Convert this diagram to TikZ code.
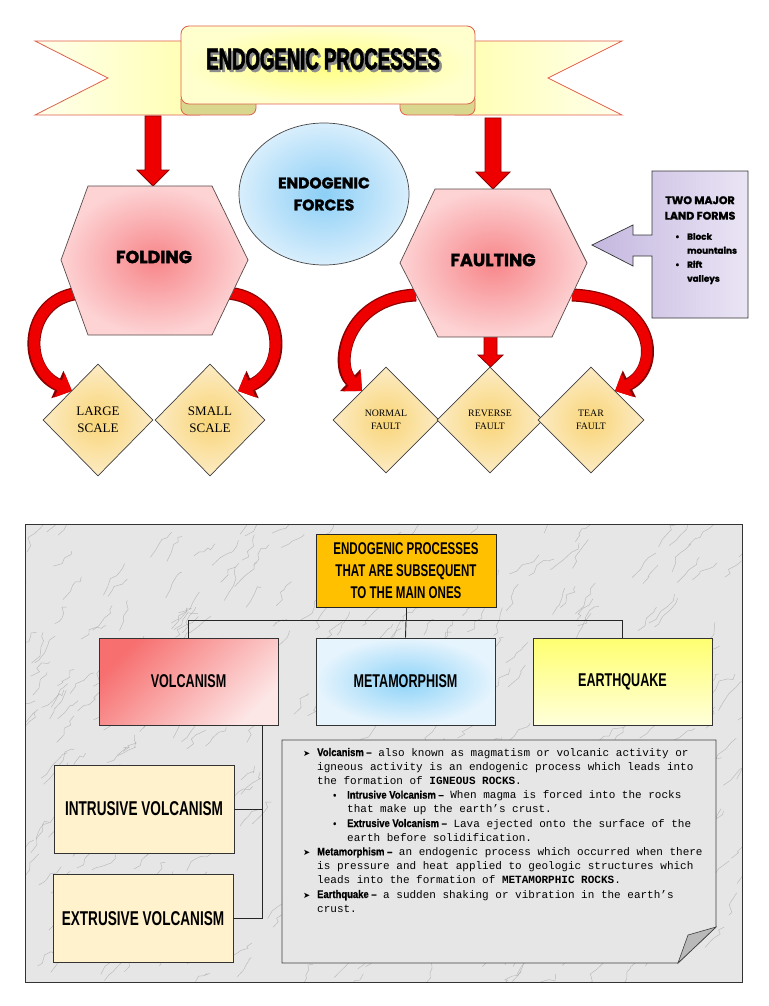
\documentclass[tikz,border=0pt]{standalone}
\usepackage{fontspec}
\setmainfont{Liberation Serif}
\newfontfamily\poppins[FakeBold=1.6]{Poppins}
\newfontfamily\poppinsb{Poppins}
\newfontfamily\agency[FakeStretch=0.68]{Liberation Sans}
\newfontfamily\titlefont[FakeStretch=0.62,FakeBold=1.8]{Liberation Sans}
\newfontfamily\labelfont[FakeStretch=0.86,FakeBold=0.8]{Liberation Sans}
\newfontfamily\monofont{Liberation Mono}
\newfontfamily\dejavu{DejaVu Sans}
\usetikzlibrary{shapes.geometric,arrows.meta}

\definecolor{ribbonline}{HTML}{E0604A}
\definecolor{ribbonA}{HTML}{FFFFEC}
\definecolor{ribbonB}{HTML}{FFFFB0}
\definecolor{panelIn}{HTML}{FFFF80}
\definecolor{panelOut}{HTML}{FFFFCE}
\definecolor{flapc}{HTML}{D9D68E}
\definecolor{arrred}{HTML}{EE0000}
\definecolor{arrdark}{HTML}{8A0000}
\definecolor{hexIn}{HTML}{F7868A}
\definecolor{hexOut}{HTML}{FDD3D4}
\definecolor{hexLine}{HTML}{5A4A4A}
\definecolor{diaIn}{HTML}{F9D577}
\definecolor{diaOut}{HTML}{FCEBC4}
\definecolor{ellIn}{HTML}{8CCFF6}
\definecolor{ellOut}{HTML}{D8EEFC}
\definecolor{purA}{HTML}{C4B7DF}
\definecolor{purB}{HTML}{EAE5F5}
\definecolor{orangebox}{HTML}{FFC000}
\definecolor{volA}{HTML}{F76F6F}
\definecolor{volB}{HTML}{FDE6E6}
\definecolor{metIn}{HTML}{8DD3F8}
\definecolor{metOut}{HTML}{E6F4FD}
\definecolor{eqA}{HTML}{FFFF70}
\definecolor{eqB}{HTML}{FFFFDA}
\definecolor{cream}{HTML}{FFF2CC}
\definecolor{marble}{HTML}{E6E6E6}
\definecolor{notebg}{HTML}{E6E6E6}

\tikzset{
  redblk/.style={fill=arrred, draw=arrdark, line width=0.8pt},
  curveout/.style={draw=arrdark, line width=13pt, -{Triangle[width=29pt,length=16pt]}},
  curvein/.style={draw=arrred, line width=10.5pt, -{Triangle[width=25pt,length=13.5pt]}},
  hexshape/.style={inner color=hexIn, outer color=hexOut, draw=hexLine, line width=0.7pt},
  heavytext/.style={font=\poppins\bfseries\fontsize{17.5}{18}\selectfont},
  dia/.style={diamond, shade, inner color=diaIn, outer color=diaOut, draw=black!75, line width=0.7pt,
              minimum width=110pt, minimum height=112pt, inner sep=0pt, align=center},
  bigdia/.style={dia, font=\fontsize{13}{17}\selectfont},
  smalldia/.style={dia, minimum width=106pt, minimum height=106pt, font=\fontsize{9.8}{12.5}\selectfont},
  bigbox/.style={draw=black!80, line width=0.8pt, minimum width=179pt, minimum height=87pt, inner sep=0pt,
                 font=\agency\bfseries\fontsize{18.5}{20}\selectfont},
  subbox/.style={draw=black!80, line width=0.8pt, fill=cream, minimum width=180pt, minimum height=88pt, inner sep=0pt,
                 font=\agency\bfseries\fontsize{20}{22}\selectfont},
  conn/.style={draw=black!85, line width=0.9pt},
  vein/.style={draw=gray!70, line width=0.45pt, opacity=0.7},
  txt/.style={anchor=base west, inner sep=0pt, font=\monofont\fontsize{11}{14}\selectfont},
}
\newcommand{\arrb}{\makebox[14pt][l]{\dejavu\fontsize{8.5}{9}\selectfont ➤}}
\newcommand{\bull}{\makebox[14pt][l]{\labelfont\fontsize{10}{10}\selectfont •}}
\newcommand{\lbl}[1]{{\labelfont\bfseries\fontsize{11}{11}\selectfont #1}}

\begin{document}
\begin{tikzpicture}[x=1pt,y=-1pt]
\useasboundingbox (0,0) rectangle (768,1006);
\fill[white] (0,0) rectangle (768,1006);

% ---------------- banner ----------------
\shade[left color=ribbonA, right color=ribbonB, draw=ribbonline, line width=0.8pt]
  (35,41) -- (200,41) -- (200,115) -- (35,115) -- (108,78) -- cycle;
\shade[left color=ribbonB, right color=ribbonA, draw=ribbonline, line width=0.8pt]
  (455,41) -- (622,41) -- (548,78) -- (622,115) -- (455,115) -- cycle;
\filldraw[fill=flapc, draw=ribbonline, line width=0.8pt, rounded corners=7pt] (181,93) rectangle (256,115);
\filldraw[fill=flapc, draw=ribbonline, line width=0.8pt, rounded corners=7pt] (400,93) rectangle (475,115);
\shade[inner color=panelIn, outer color=panelOut, draw=ribbonline, line width=0.8pt, rounded corners=8pt]
  (181,104) -- (181,26) -- (475,26) -- (475,104) -- cycle;
\node[text=black!45] (titleshadow) at (325.5,61.5) {\titlefont\bfseries\fontsize{30}{30}\selectfont ENDOGENIC PROCESSES};
\node (title) at (323,59) {\titlefont\bfseries\fontsize{30}{30}\selectfont ENDOGENIC PROCESSES};

% ---------------- straight red arrows ----------------
\filldraw[redblk] (145,116) -- (161,116) -- (161,170) -- (169,170) -- (153,186) -- (137,170) -- (145,170) -- cycle;
\filldraw[redblk] (485,118) -- (501,118) -- (501,172) -- (510,172) -- (493,189) -- (476,172) -- (485,172) -- cycle;
\filldraw[redblk] (484,336) -- (497,336) -- (497,355) -- (503,355) -- (490.5,367) -- (478,355) -- (484,355) -- cycle;

% ---------------- curved red arrows ----------------
\coordinate (fl1) at (82,293);  \coordinate (ls) at (72,391);
\coordinate (fl2) at (226,293); \coordinate (ss) at (238,391);
\coordinate (fa1) at (416,295); \coordinate (nf) at (362,391);
\coordinate (fa2) at (572,295); \coordinate (tf) at (615,391);
\foreach \s in {curveout,curvein}{
  \draw[\s] (fl1) .. controls (26,296) and (20,368) .. (ls);
  \draw[\s] (fl2) .. controls (284,296) and (290,368) .. (ss);
  \draw[\s] (fa1) .. controls (346,298) and (334,365) .. (nf);
  \draw[\s] (fa2) .. controls (656,298) and (662,368) .. (tf);
}

% ---------------- hexagons ----------------
\shade[hexshape] (61,260) -- (88,186) -- (212,186) -- (248,260) -- (212,335) -- (88,335) -- cycle;
\node[heavytext] (folding) at (154,257) {FOLDING};
\shade[hexshape] (400,263) -- (435,189) -- (550,189) -- (587,263) -- (552,337) -- (438,337) -- cycle;
\node[heavytext] (faulting) at (493,260) {FAULTING};

% ---------------- ellipse ----------------
\node[ellipse, shade, inner color=ellIn, outer color=ellOut, draw=gray!55!black, line width=0.7pt,
      minimum width=170pt, minimum height=142pt, align=center,
      font=\poppins\bfseries\fontsize{15.5}{22}\selectfont] (forces) at (324,194) {ENDOGENIC\\FORCES};

% ---------------- purple callout ----------------
\shade[left color=purA, right color=purB, draw=gray!40!black, line width=0.7pt]
  (652,171) -- (748,171) -- (748,318) -- (652,318) -- (652,256) -- (633,256) -- (633,266)
  -- (592,245) -- (633,225) -- (633,235) -- (652,235) -- cycle;
\node[align=center, font=\poppins\bfseries\fontsize{11}{15.5}\selectfont] (twomajor) at (700,208) {TWO MAJOR\\LAND FORMS};
\node[anchor=north west, inner sep=0pt, align=left, font=\poppins\bfseries\fontsize{8.8}{14}\selectfont] (landforms) at (675,233)
  {\makebox[12pt][l]{•}Block\\\hspace*{12pt}mountains\\\makebox[12pt][l]{•}Rift\\\hspace*{12pt}valleys};

% ---------------- diamonds ----------------
\node[bigdia] (large) at (98,420) {LARGE\\SCALE};
\node[bigdia] (small) at (210,420) {SMALL\\SCALE};
\node[smalldia] (normal) at (386,420) {NORMAL\\FAULT};
\node[smalldia] (reverse) at (490,420) {REVERSE\\FAULT};
\node[smalldia] (tear) at (591,420) {TEAR\\FAULT};

% ---------------- lower panel ----------------
\fill[marble] (25,524) rectangle (742,982);
\begin{scope}
  \clip (25,524) rectangle (742,982);
  \pgfmathsetseed{42}
  \foreach \i in {1,...,380}{
    \pgfmathsetmacro{\xa}{10+rnd*750}
    \pgfmathsetmacro{\ya}{530+rnd*460}
    \draw[vein] (\xa,\ya) -- ++(6*rnd+3,-7*rnd-2) -- ++(9*rnd-3,-9*rnd) -- ++(7*rnd+2,-6*rnd-2) -- ++(9*rnd-2,-9*rnd+2) -- ++(6*rnd,-7*rnd);
  }
\end{scope}
\draw[black!80, line width=0.9pt] (25,524) rectangle (742,982);

\node[draw=black!85, line width=0.8pt, fill=orangebox, minimum width=180pt, minimum height=73pt, inner sep=0pt, align=center,
      font=\agency\bfseries\fontsize{17}{22}\selectfont] (sub) at (406,570.5) {ENDOGENIC PROCESSES\\THAT ARE SUBSEQUENT\\TO THE MAIN ONES};

\node[bigbox, shade, left color=volA, right color=volB, shading angle=45] (volc) at (188.5,681.5) {VOLCANISM};
\node[bigbox, shade, inner color=metIn, outer color=metOut] (meta) at (405.5,681.5) {METAMORPHISM};
\node[bigbox, shade, top color=eqA, bottom color=eqB] (earth) at (622.5,681.5) {EARTHQUAKE};

\draw[conn] (sub.south) -- ++(0,13) coordinate (j);
\draw[conn] (volc.north) |- (j) -| (earth.north);
\draw[conn] (j) -- (meta.north);

\node[subbox] (intr) at (144,809) {INTRUSIVE VOLCANISM};
\node[subbox] (extr) at (143,918.5) {EXTRUSIVE VOLCANISM};
\coordinate (vb) at (262,725);
\draw[conn] (vb) |- (intr.east);
\draw[conn] (vb) |- (extr.east);

% ---------------- note box ----------------
\filldraw[fill=notebg, draw=gray!50!black, line width=0.8pt]
  (282,740) -- (716,740) -- (716,927) -- (678,963) -- (282,963) -- cycle;
\filldraw[fill=gray!55, draw=gray!50!black, line width=0.6pt] (716,927) -- (688,935) -- (678,963) -- cycle;

\node[txt] (t1) at (303,756) {\arrb\lbl{Volcanism –} also known as magmatism or volcanic activity or};
\node[txt] (t2) at (317,770.2) {igneous activity is an endogenic process which leads into};
\node[txt] (t3) at (317,784.4) {the formation of \textbf{IGNEOUS ROCKS}.};
\node[txt] (t4) at (333,798.6) {\bull\lbl{Intrusive Volcanism –} When magma is forced into the rocks};
\node[txt] (t5) at (347,812.8) {that make up the earth’s crust.};
\node[txt] (t6) at (333,827) {\bull\lbl{Extrusive Volcanism –} Lava ejected onto the surface of the};
\node[txt] (t7) at (347,841.2) {earth before solidification.};
\node[txt] (t8) at (303,855.4) {\arrb\lbl{Metamorphism –} an endogenic process which occurred when there};
\node[txt] (t9) at (317,869.6) {is pressure and heat applied to geologic structures which};
\node[txt] (t10) at (317,883.8) {leads into the formation of \textbf{METAMORPHIC ROCKS}.};
\node[txt] (t11) at (303,898) {\arrb\lbl{Earthquake –} a sudden shaking or vibration in the earth’s};
\node[txt] (t12) at (317,912.2) {crust.};
\end{tikzpicture}
\end{document}
